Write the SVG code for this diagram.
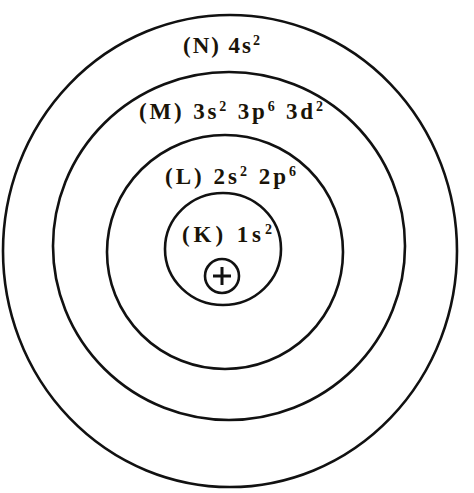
<svg xmlns="http://www.w3.org/2000/svg" width="474" height="493" viewBox="0 0 474 493">
<style>
.orb{fill:none;stroke:#111;stroke-width:2.6}
.lbl{font-family:"Liberation Serif","DejaVu Serif",serif;font-size:23px;font-weight:bold;fill:#1a1408}
.sup{font-size:14px}
</style>
<rect width="474" height="493" fill="#fff"/>
<g id="shell-N">
<ellipse class="orb" cx="230" cy="251" rx="227" ry="236"/>
<text class="lbl" x="183" y="53" textLength="77" lengthAdjust="spacing">(N) 4s<tspan class="sup" dy="-8">2</tspan></text>
</g>
<g id="shell-M">
<ellipse class="orb" cx="229" cy="246" rx="176" ry="174"/>
<text class="lbl" x="139" y="119" textLength="184" lengthAdjust="spacing">(M) 3s<tspan class="sup" dy="-8">2</tspan><tspan dy="8"> 3p</tspan><tspan class="sup" dy="-8">6</tspan><tspan dy="8"> 3d</tspan><tspan class="sup" dy="-8">2</tspan></text>
</g>
<g id="shell-L">
<ellipse class="orb" cx="225" cy="252" rx="118" ry="117"/>
<text class="lbl" x="165" y="184" textLength="131" lengthAdjust="spacing">(L) 2s<tspan class="sup" dy="-8">2</tspan><tspan dy="8"> 2p</tspan><tspan class="sup" dy="-8">6</tspan></text>
</g>
<g id="shell-K">
<ellipse class="orb" cx="223" cy="249" rx="58" ry="56"/>
<text class="lbl" x="182" y="242" textLength="90" lengthAdjust="spacing">(K) 1s<tspan class="sup" dy="-8">2</tspan></text>
</g>
<g id="nucleus">
<circle class="orb" cx="222" cy="276" r="17"/>
<path d="M222 267v18M213 276h18" stroke="#111" stroke-width="3" fill="none"/>
</g>
</svg>
